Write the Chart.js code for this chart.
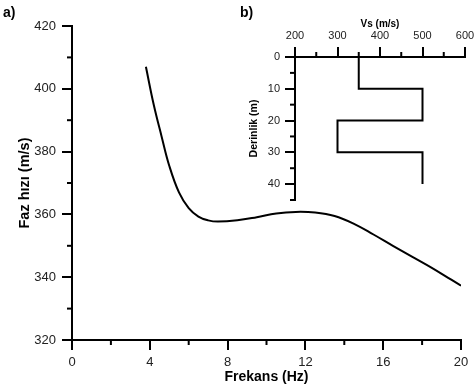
<!DOCTYPE html>
<html>
<head>
<meta charset="utf-8">
<script src="https://cdn.jsdelivr.net/npm/chart.js@4/dist/chart.umd.min.js"></script>
<style>
  body { margin: 0; width: 474px; height: 386px; overflow: hidden; position: relative; background: #fff; font-family: 'Liberation Sans', Arial, sans-serif; }
  #ana { position: absolute; left: 0; top: 0; }
  #ic { position: absolute; left: 230px; top: 0; }
  .etiket { position: absolute; font-weight: bold; font-size: 14px; line-height: 14px; color: #000; }
</style>
</head>
<body>
<canvas id="ana" width="474" height="386"></canvas>
<canvas id="ic" width="260" height="215"></canvas>
<div class="etiket" style="left:3px; top:5px;">a)</div>
<div class="etiket" style="left:240px; top:5px;">b)</div>
<script>
// a) dispersiyon egrisi
const frekans = [3.8, 4.2, 4.6, 5.0, 5.5, 6.0, 6.5, 7.0, 7.5, 8.5, 9.5, 10.5, 11.5, 12.5, 13.5, 14.5, 15.5, 16.5, 17.5, 18.5, 19.5, 20.0];
const fazHizi = [407, 395, 385, 375.5, 367, 362, 359.3, 358.1, 357.7, 358.1, 359.1, 360.3, 360.8, 360.6, 359.5, 357, 353.6, 350, 346.5, 343, 339.2, 337.3];
const frekansTicks = [0, 4, 8, 12, 16, 20];
const frekansMinor = [2, 6, 10, 14, 18];
const hizTicks = [320, 340, 360, 380, 400, 420];
const hizMinor = [330, 350, 370, 390, 410];

// b) Vs profili
const vsProfil = [350, 350, 500, 500, 300, 300, 500, 500];
const derinlik = [0, 10, 10, 20, 20, 30, 30, 40];
const vsTicks = [200, 300, 400, 500, 600];
const vsMinor = [250, 350, 450, 550];
const derinlikTicks = [0, 10, 20, 30, 40];
const derinlikMinor = [5, 15, 25, 35, 45];

const yazi = "'Liberation Sans', Arial, sans-serif";

// kucuk tick'ler
const minorTickPlugin = {
    id: 'minorTicks',
    afterDraw(chart, args, opts) {
        const ctx = chart.ctx;
        ctx.save();
        ctx.strokeStyle = '#000';
        ctx.lineWidth = 2;
        for (const id in opts.values) {
            const scale = chart.scales[id];
            opts.values[id].forEach(v => {
                const p = scale.getPixelForValue(v);
                ctx.beginPath();
                if (scale.position === 'bottom') { ctx.moveTo(p, scale.top); ctx.lineTo(p, scale.top + opts.len); }
                else if (scale.position === 'top') { ctx.moveTo(p, scale.bottom); ctx.lineTo(p, scale.bottom - opts.len); }
                else { ctx.moveTo(scale.right, p); ctx.lineTo(scale.right - opts.len, p); }
                ctx.stroke();
            });
        }
        ctx.restore();
    }
};

function eksen(min, max, ticks, pos, extra) {
    return Object.assign({
        type: 'linear',
        position: pos,
        min: min,
        max: max,
        afterBuildTicks: s => { s.ticks = ticks.map(v => ({ value: v })); },
        grid: { display: true, drawOnChartArea: false, drawTicks: true, tickLength: 10, color: '#000', lineWidth: 2 },
        border: { display: true, color: '#000', width: 2 }
    }, extra);
}

new Chart(document.getElementById('ana'), {
    type: 'line',
    data: {
        datasets: [{
            data: frekans.map((f, i) => ({ x: f, y: fazHizi[i] })),
            borderColor: '#000',
            borderWidth: 2,
            pointRadius: 0,
            tension: 0.4,
            fill: false
        }]
    },
    options: {
        responsive: false,
        animation: false,
        devicePixelRatio: 1,
        layout: { padding: { left: 0, top: 26, right: 13, bottom: 0 } },
        scales: {
            x: eksen(0, 20, frekansTicks, 'bottom', {
                afterFit: s => { s.height = 46; },
                ticks: { color: '#222', padding: 5, maxRotation: 0, font: { family: yazi, size: 13 } },
                title: { display: true, text: 'Frekans (Hz)', color: '#000', padding: { top: 0, bottom: 0 }, font: { family: yazi, size: 14, weight: 'bold' } }
            }),
            y: eksen(320, 420, hizTicks, 'left', {
                afterFit: s => { s.width = 72; },
                ticks: { color: '#222', padding: 6, font: { family: yazi, size: 13 } },
                title: { display: true, text: 'Faz hızı (m/s)', color: '#000', padding: { top: 16, bottom: 0 }, font: { family: yazi, size: 14.5, weight: 'bold' } }
            })
        },
        plugins: {
            legend: { display: false },
            tooltip: { enabled: false },
            minorTicks: { len: 5, values: { x: frekansMinor, y: hizMinor } }
        }
    },
    plugins: [minorTickPlugin]
});

new Chart(document.getElementById('ic'), {
    type: 'line',
    data: {
        datasets: [{
            data: vsProfil.map((v, i) => ({ x: v, y: derinlik[i] })),
            borderColor: '#000',
            borderWidth: 2,
            pointRadius: 0,
            tension: 0,
            fill: false
        }]
    },
    options: {
        responsive: false,
        animation: false,
        devicePixelRatio: 1,
        layout: { padding: { left: 0, top: 0, right: 25, bottom: 15 } },
        scales: {
            x: eksen(200, 600, vsTicks, 'top', {
                afterFit: s => { s.height = 57; },
                ticks: { color: '#222', padding: 4, maxRotation: 0, font: { family: yazi, size: 11 } },
                title: { display: true, text: 'Vs (m/s)', color: '#000', padding: { top: 18, bottom: 0 }, font: { family: yazi, size: 10, weight: 'bold' } }
            }),
            y: eksen(0, 45, derinlikTicks, 'left', {
                reverse: true,
                afterFit: s => { s.width = 65; },
                ticks: { color: '#222', padding: 5, font: { family: yazi, size: 11 } },
                title: { display: true, text: 'Derinlik (m)', color: '#000', padding: { top: 18, bottom: 0 }, font: { family: yazi, size: 10.5, weight: 'bold' } }
            })
        },
        plugins: {
            legend: { display: false },
            tooltip: { enabled: false },
            minorTicks: { len: 5, values: { x: vsMinor, y: derinlikMinor } }
        }
    },
    plugins: [minorTickPlugin]
});
</script>
</body>
</html>
